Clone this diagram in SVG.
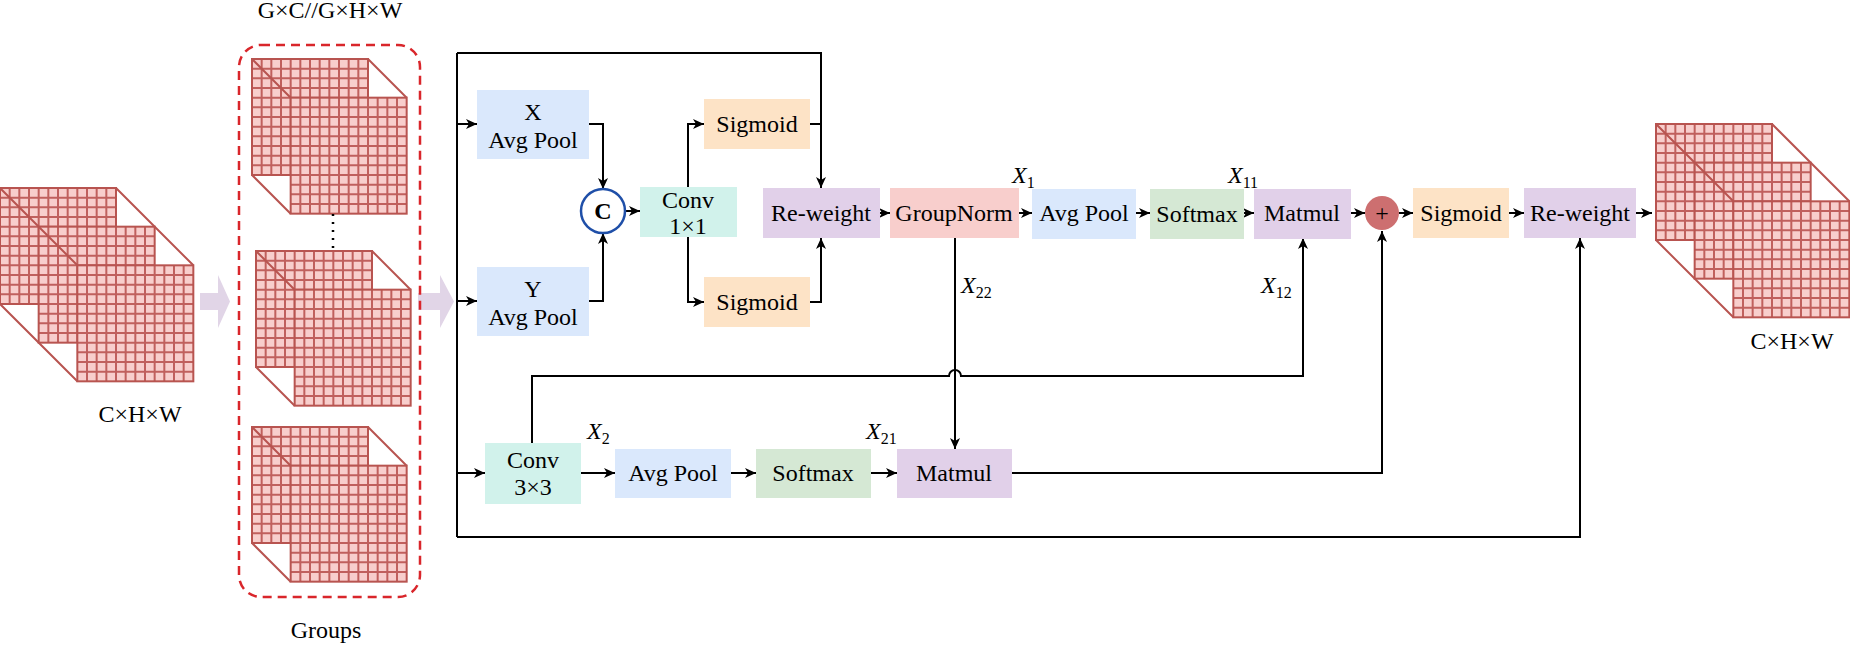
<svg xmlns="http://www.w3.org/2000/svg" xmlns:xlink="http://www.w3.org/1999/xlink" width="1850" height="645" viewBox="0 0 1850 645">
<style>
.t{font-family:"Liberation Serif","Times New Roman","DejaVu Serif",serif;font-size:24px;fill:#000;text-anchor:middle}
.m{font-family:"Liberation Serif","Times New Roman","DejaVu Serif",serif;font-size:24px;font-style:italic;fill:#000}
.s{font-style:normal;font-size:16px}
.c{fill:none;stroke:#000;stroke-width:2}
.a{marker-end:url(#ah)}
.gl{fill:none;stroke:#c0605d;stroke-width:2}
.ed{fill:none;stroke:#b85450;stroke-width:2}
.blue{fill:#dae8fc}.org{fill:#fde3c6}.teal{fill:#d1f2eb}.pink{fill:#f8cecc}.grn{fill:#d5e8d4}.pur{fill:#e1d0e9}
</style>
<defs>
<marker id="ah" markerWidth="12" markerHeight="10" refX="11" refY="5" orient="auto" markerUnits="userSpaceOnUse">
<path d="M0,0 L11,5 L0,10 L3,5 z" fill="#000"/>
</marker>
<g id="sheet">
<rect x="0" y="0" width="116" height="116" fill="#f8cecc"/>
<path class="gl" d="M9.67,0V116M19.33,0V116M29,0V116M38.67,0V116M48.33,0V116M58,0V116M67.67,0V116M77.33,0V116M87,0V116M96.67,0V116M106.33,0V116M0,9.67H116M0,19.33H116M0,29H116M0,38.67H116M0,48.33H116M0,58H116M0,67.67H116M0,77.33H116M0,87H116M0,96.67H116M0,106.33H116"/>
<rect class="ed" x="0" y="0" width="116" height="116"/>
</g>
<g id="stack3">
<use xlink:href="#sheet"/>
<use xlink:href="#sheet" x="38.67" y="38.67"/>
<use xlink:href="#sheet" x="77.33" y="77.33"/>
<path class="ed" d="M0,0L77.33,77.33M116,0L193.33,77.33M0,116L77.33,193.33"/>
</g>
<g id="stack2">
<use xlink:href="#sheet"/>
<use xlink:href="#sheet" x="38.67" y="38.67"/>
<path class="ed" d="M0,0L38.67,38.67M116,0L154.67,38.67M0,116L38.67,154.67"/>
</g>
</defs>

<g id="input">
<use xlink:href="#stack3" x="0" y="188"/>
<text class="t" x="140" y="422">C×H×W</text>
</g>
<g id="bigarrows" fill="#e1d5e7">
<path d="M200,293H218V275L230,301.5L218,328V310H200z"/>
<path d="M418,293H440V275L454,301.5L440,328V310H418z"/>
</g>
<g id="groups">
<text class="t" x="330" y="18">G×C//G×H×W</text>
<rect x="239" y="45" width="181" height="552" rx="22" fill="none" stroke="#d9262b" stroke-width="2.5" stroke-dasharray="9,6"/>
<use xlink:href="#stack2" x="252" y="59"/>
<use xlink:href="#stack2" x="256" y="251"/>
<use xlink:href="#stack2" x="252" y="427"/>
<path d="M333,214V248" stroke="#000" stroke-width="2.5" stroke-dasharray="2,6" fill="none"/>
<text class="t" x="326" y="638">Groups</text>
</g>
<g id="output">
<use xlink:href="#stack3" x="1656" y="124"/>
<text class="t" x="1792" y="349">C×H×W</text>
</g>

<g id="connectors">
<path class="c" d="M457,53V537"/>
<path class="c a" d="M457,53H821V188"/>
<path class="c a" d="M457,537H1580V238"/>
<path class="c a" d="M457,124H477"/>
<path class="c a" d="M457,301H477"/>
<path class="c a" d="M457,473H485"/>
<path class="c a" d="M589,124H603V189"/>
<path class="c a" d="M589,301H603V233"/>
<path class="c a" d="M625,211H640"/>
<path class="c a" d="M688,187V124H704"/>
<path class="c a" d="M688,237V302H704"/>
<path class="c" d="M810,124H821"/>
<path class="c a" d="M810,302H821V238"/>
<path class="c a" d="M880,213H890"/>
<path class="c a" d="M1019,213H1032"/>
<path class="c a" d="M1136,213H1150"/>
<path class="c a" d="M1244,213H1254"/>
<path class="c a" d="M1351,213H1365"/>
<path class="c a" d="M1399,213H1413"/>
<path class="c a" d="M1509,213H1524"/>
<path class="c a" d="M1636,213H1652"/>
<path class="c a" d="M955,238V449"/>
<path class="c a" d="M532,443V376H949A6,6 0 0 1 961,376H1303V238"/>
<path class="c a" d="M581,473H615"/>
<path class="c a" d="M731,473H756"/>
<path class="c a" d="M871,473H897"/>
<path class="c a" d="M1012,473H1382V231"/>
</g>

<g id="xpool"><rect class="blue" x="477" y="90" width="112" height="69"/><text class="t" x="533" y="120">X</text><text class="t" x="533" y="148">Avg Pool</text></g>
<g id="ypool"><rect class="blue" x="477" y="267" width="112" height="69"/><text class="t" x="533" y="297">Y</text><text class="t" x="533" y="325">Avg Pool</text></g>
<g id="concat"><circle cx="603" cy="211" r="22" fill="#fff" stroke="#1f4fa8" stroke-width="2.5"/><text class="t" x="603" y="219" font-weight="bold">C</text></g>
<g id="conv1"><rect class="teal" x="640" y="187" width="97" height="50"/><text class="t" x="688" y="208">Conv</text><text class="t" x="688" y="234">1×1</text></g>
<g id="sig1"><rect class="org" x="704" y="99" width="106" height="50"/><text class="t" x="757" y="132">Sigmoid</text></g>
<g id="sig2"><rect class="org" x="704" y="277" width="106" height="50"/><text class="t" x="757" y="310">Sigmoid</text></g>
<g id="rw1"><rect class="pur" x="763" y="188" width="117" height="50"/><text class="t" x="821" y="221">Re-weight</text></g>
<g id="gn"><rect class="pink" x="890" y="188" width="129" height="50"/><text class="t" x="954" y="221">GroupNorm</text></g>
<g id="ap1"><rect class="blue" x="1032" y="189" width="104" height="50"/><text class="t" x="1084" y="221">Avg Pool</text></g>
<g id="sm1"><rect class="grn" x="1150" y="189" width="94" height="50"/><text class="t" x="1197" y="222">Softmax</text></g>
<g id="mm1"><rect class="pur" x="1254" y="189" width="97" height="50"/><text class="t" x="1302" y="221">Matmul</text></g>
<g id="plus"><circle cx="1382" cy="213" r="17" fill="#cd6f70"/><text class="t" x="1382" y="221">+</text></g>
<g id="sig3"><rect class="org" x="1413" y="188" width="96" height="50"/><text class="t" x="1461" y="221">Sigmoid</text></g>
<g id="rw2"><rect class="pur" x="1524" y="188" width="112" height="50"/><text class="t" x="1580" y="221">Re-weight</text></g>
<g id="conv3"><rect class="teal" x="485" y="443" width="96" height="61"/><text class="t" x="533" y="468">Conv</text><text class="t" x="533" y="495">3×3</text></g>
<g id="ap2"><rect class="blue" x="615" y="449" width="116" height="49"/><text class="t" x="673" y="481">Avg Pool</text></g>
<g id="sm2"><rect class="grn" x="756" y="449" width="115" height="49"/><text class="t" x="813" y="481">Softmax</text></g>
<g id="mm2"><rect class="pur" x="897" y="449" width="115" height="49"/><text class="t" x="954" y="481">Matmul</text></g>

<g id="labels">
<text class="m" x="1012" y="183">X<tspan class="s" dy="5">1</tspan></text>
<text class="m" x="1228" y="183">X<tspan class="s" dy="5">11</tspan></text>
<text class="m" x="961" y="293">X<tspan class="s" dy="5">22</tspan></text>
<text class="m" x="1261" y="293">X<tspan class="s" dy="5">12</tspan></text>
<text class="m" x="587" y="439">X<tspan class="s" dy="5">2</tspan></text>
<text class="m" x="866" y="439">X<tspan class="s" dy="5">21</tspan></text>
</g>
</svg>
